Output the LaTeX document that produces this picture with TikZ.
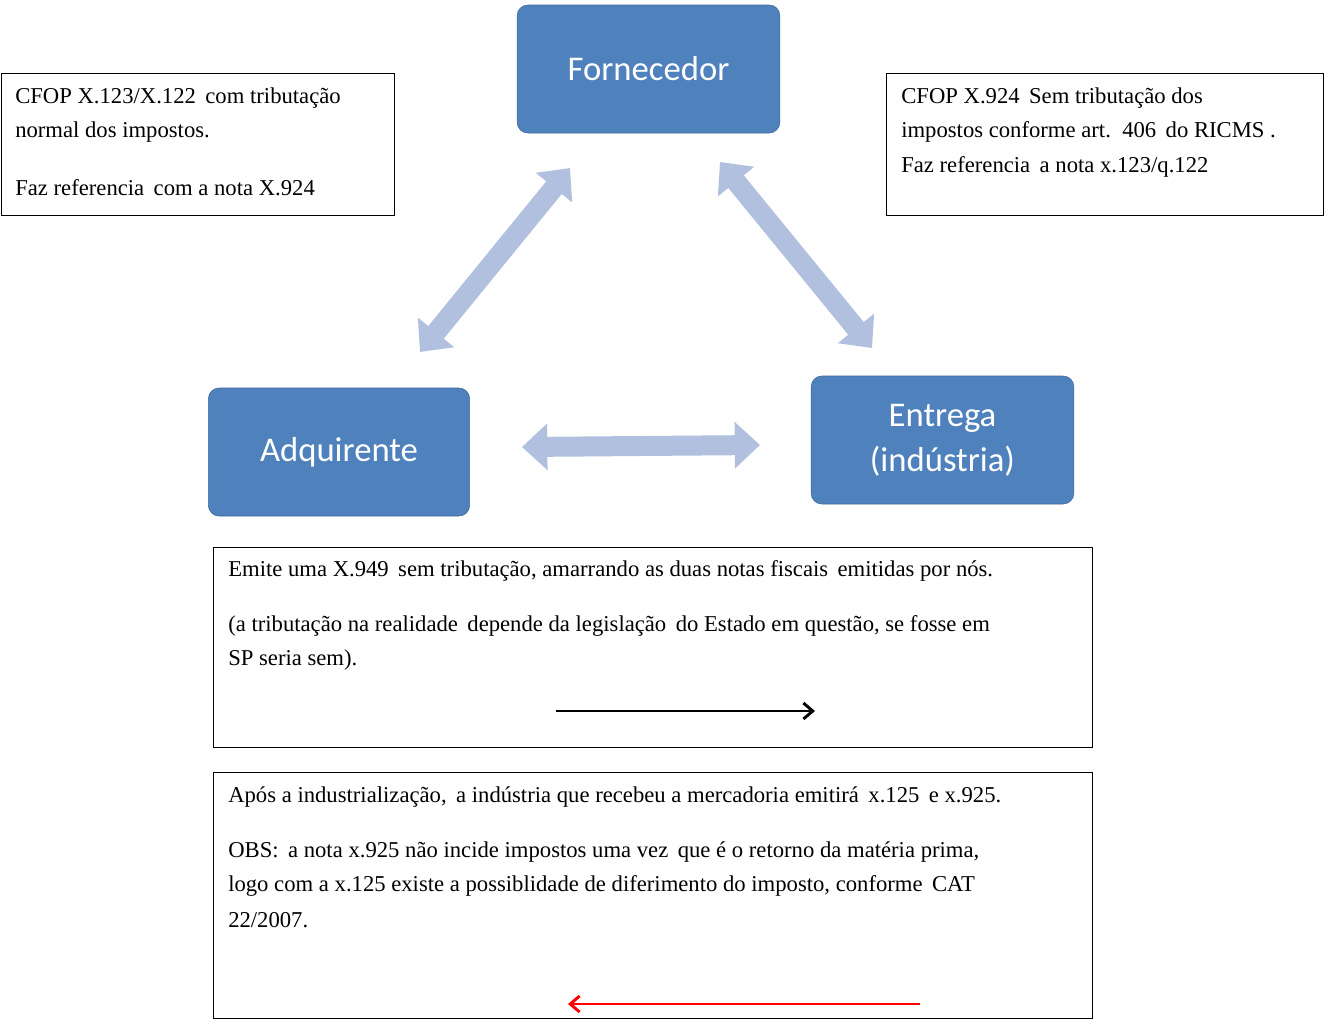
\documentclass[tikz,border=0pt]{standalone}
\usepackage{fontspec}
\setmainfont{Liberation Serif}
\newfontfamily\calfont{Carlito}
\usetikzlibrary{arrows.meta}
\definecolor{boxblue}{HTML}{4F81BD}
\definecolor{arrblue}{HTML}{B0C0DE}
\begin{document}
\begin{tikzpicture}[x=0.75pt,y=-0.75pt,
  bluebox/.style={fill=boxblue,draw=boxblue!80!black,rounded corners=8pt,text=white,font=\calfont\fontsize{26}{34}\selectfont,align=center},
  txt/.style={anchor=west,inner sep=0pt,font=\fontsize{17}{20}\selectfont},
  dbl/.style={arrblue,line width=15pt,{Triangle[width=34pt,length=19pt]}-{Triangle[width=34pt,length=19pt]}},
  frame/.style={draw,line width=0.8pt}]
\useasboundingbox (0,0) rectangle (1333,1029);
\node[bluebox,minimum width=197pt,minimum height=96pt] (forn) at (648.5,69) {Fornecedor};
\node[bluebox,minimum width=196pt,minimum height=96pt] (adq) at (339,452) {Adquirente};
\node[bluebox,minimum width=197pt,minimum height=96pt] (ent) at (942.5,440) {Entrega\\(indústria)};
\coordinate (a1) at (420,352); \coordinate (a2) at (570,168);
\coordinate (b1) at (720,162); \coordinate (b2) at (872,348);
\coordinate (c1) at (522,447); \coordinate (c2) at (760,445);
\draw[dbl] (a1) -- (a2);
\draw[dbl] (b1) -- (b2);
\draw[dbl] (c1) -- (c2);
\node[frame,minimum width=294.75pt,minimum height=106.5pt,anchor=north west] (lb) at (1,73) {};
\node[txt] at (15,98) {CFOP X.123/X.122\, com tributação};
\node[txt] at (15,132) {normal dos impostos.};
\node[txt] at (15,188) {Faz referencia\, com a nota X.924};
\node[frame,minimum width=327.75pt,minimum height=106.5pt,anchor=north west] (rb) at (886,73) {};
\node[txt] at (901,98) {CFOP X.924\, Sem tributação dos};
\node[txt] at (901,132) {impostos conforme art.\, 406\, do RICMS .};
\node[txt] at (901,167) {Faz referencia\, a nota x.123/q.122};
\node[frame,minimum width=659.25pt,minimum height=150pt,anchor=north west] (mb) at (213,547) {};
\node[txt] at (228,571) {Emite uma X.949\, sem tributação, amarrando as duas notas fiscais\, emitidas por nós.};
\node[txt] at (228,626) {(a tributação na realidade\, depende da legislação\, do Estado em questão, se fosse em};
\node[txt] at (228,660) {SP seria sem).};
\coordinate (k1) at (556,711); \coordinate (k2) at (815,711);
\draw[line width=2.2pt,-{Straight Barb[length=7pt,width=12pt]}] (k1) -- (k2);
\node[frame,minimum width=659.25pt,minimum height=184.5pt,anchor=north west] (bb) at (213,772) {};
\node[txt] at (228,797) {Após a industrialização,\, a indústria que recebeu a mercadoria emitirá\, x.125\, e x.925.};
\node[txt] at (228,852) {OBS:\, a nota x.925 não incide impostos uma vez\, que é o retorno da matéria prima,};
\node[txt] at (228,886) {logo com a x.125 existe a possiblidade de diferimento do imposto, conforme\, CAT};
\node[txt] at (228,920) {22/2007.};
\coordinate (r1) at (920,1004); \coordinate (r2) at (568,1004);
\draw[red,line width=2.2pt,-{Straight Barb[length=7pt,width=12pt]}] (r1) -- (r2);
\end{tikzpicture}
\end{document}
